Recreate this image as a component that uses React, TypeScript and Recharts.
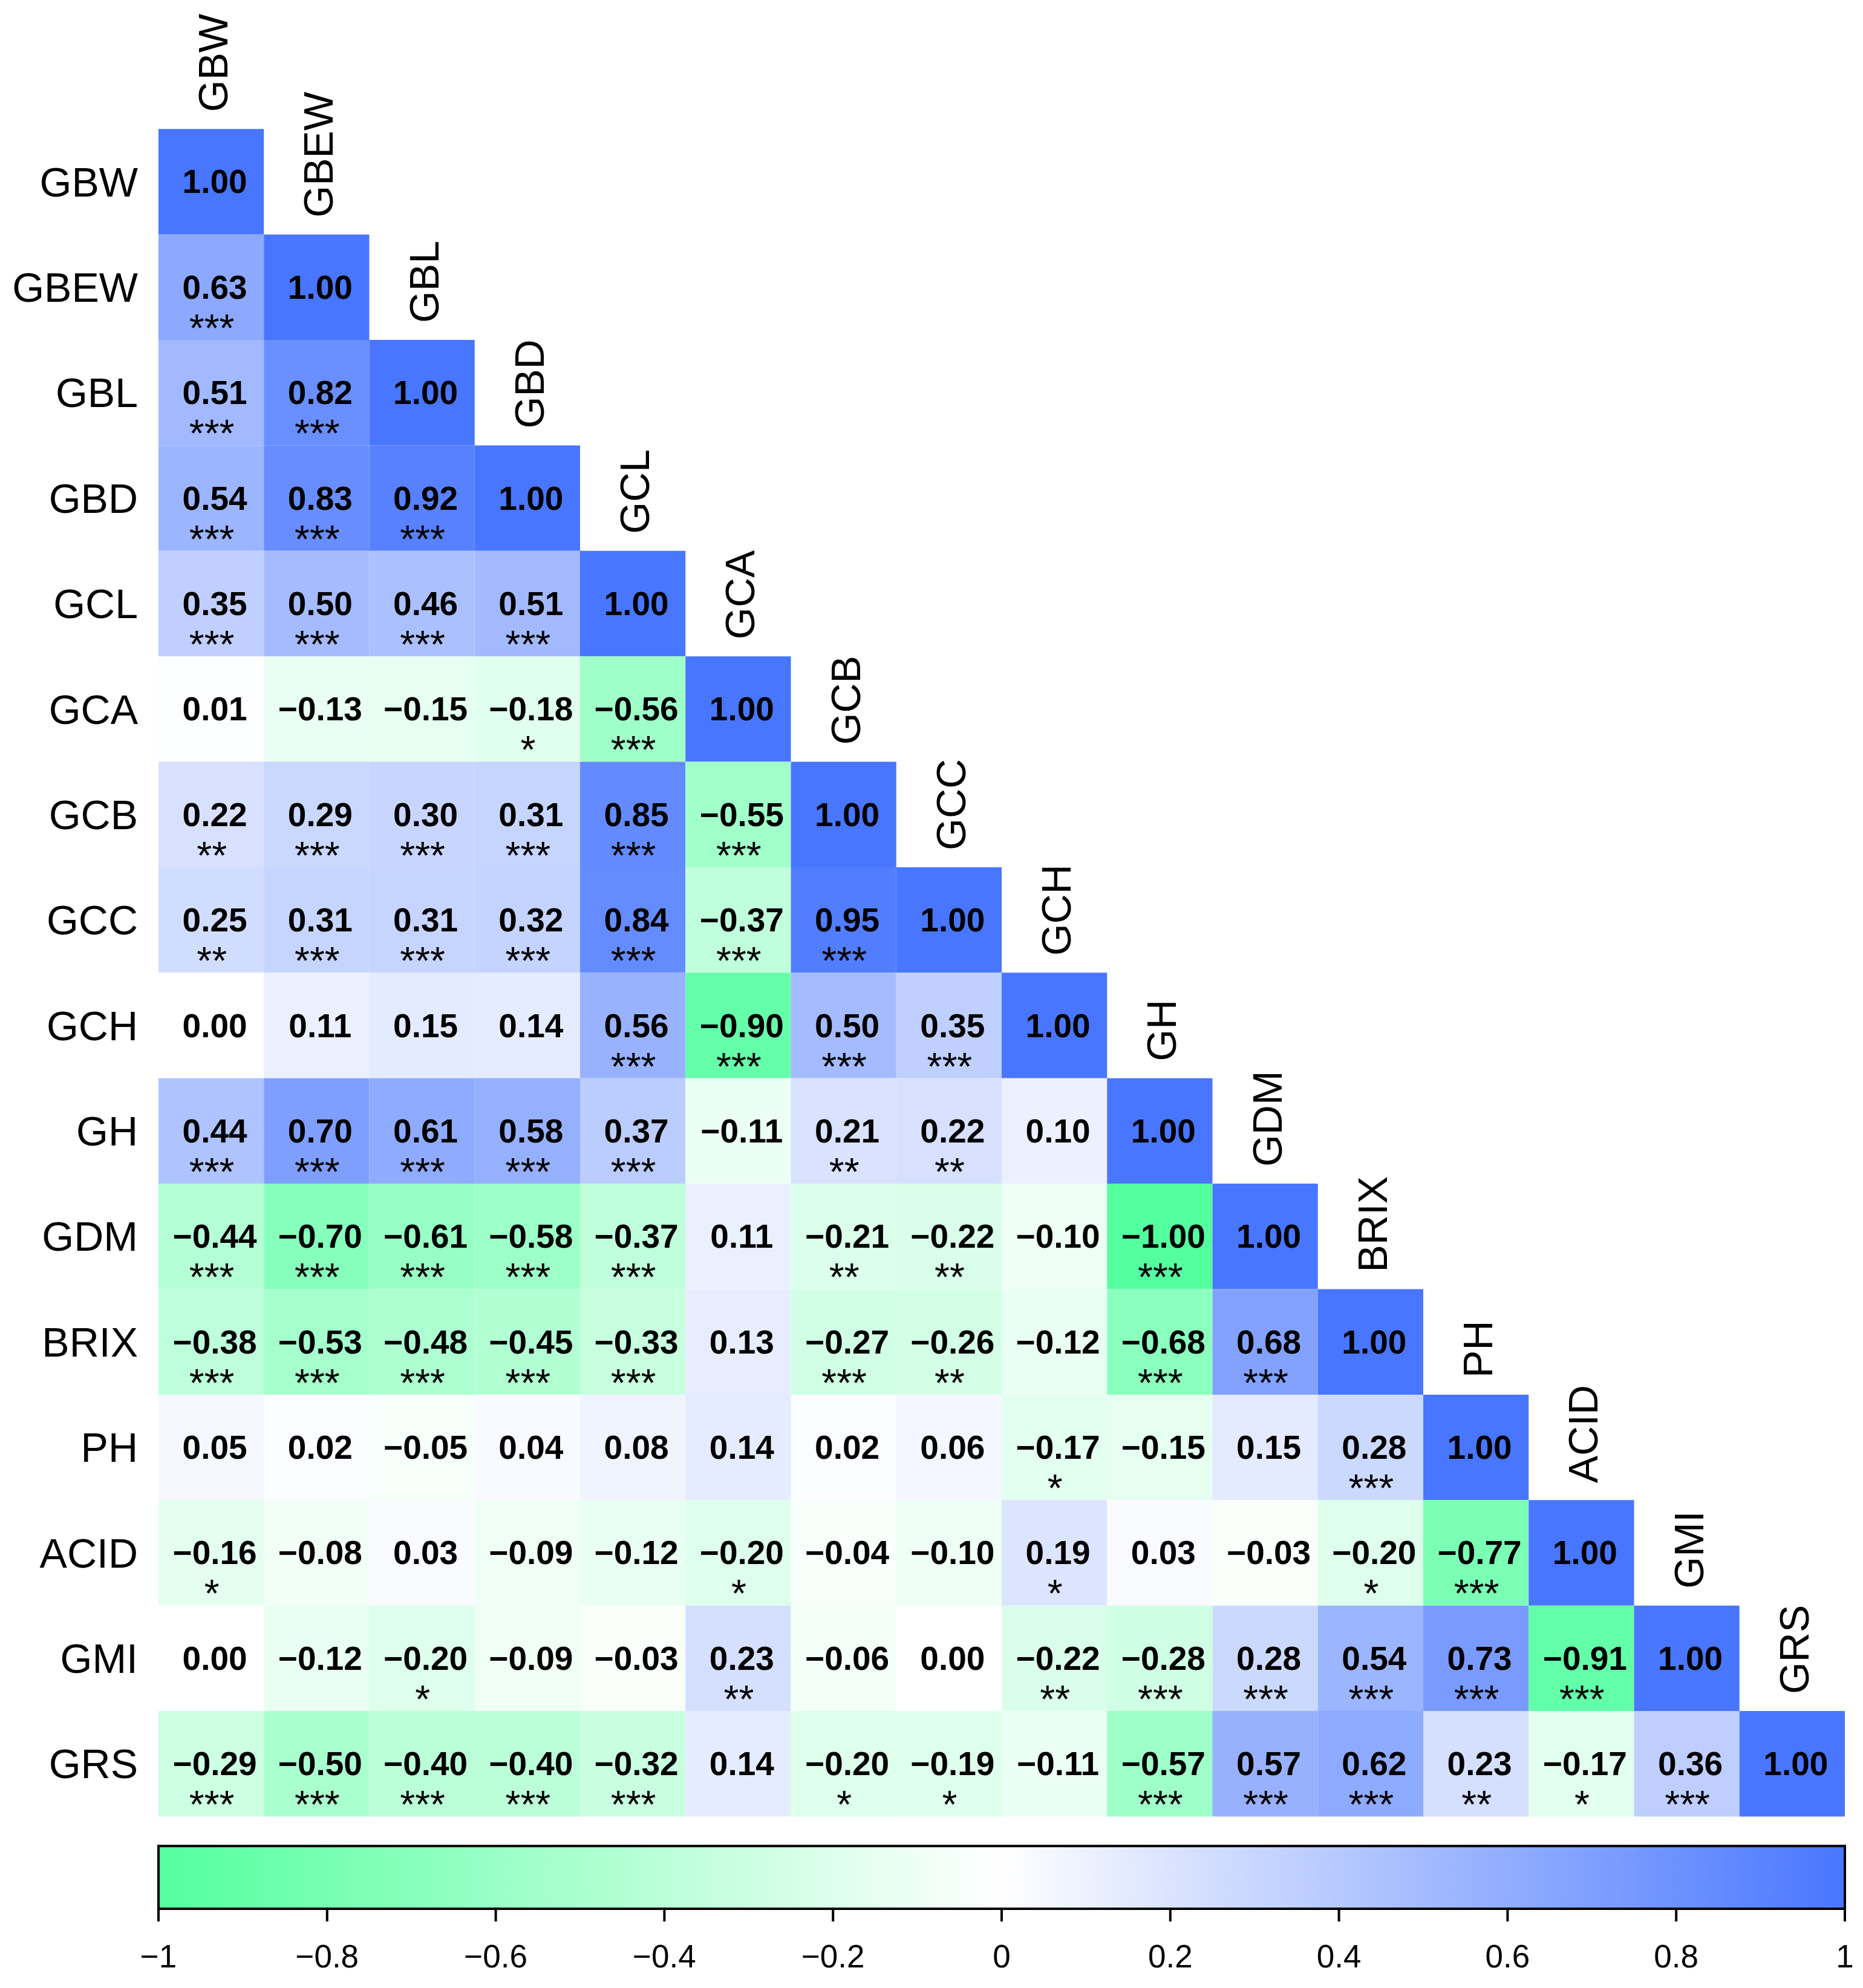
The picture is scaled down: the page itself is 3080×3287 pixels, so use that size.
import React from 'react';
import { ScatterChart, Scatter, XAxis, YAxis, ReferenceArea } from 'recharts';

const VARS = ['GBW', 'GBEW', 'GBL', 'GBD', 'GCL', 'GCA', 'GCB', 'GCC', 'GCH', 'GH', 'GDM', 'BRIX', 'PH', 'ACID', 'GMI', 'GRS'];

// lower-triangle correlations (row variable vs earlier columns), diagonal = 1
const R_GBW: number[] = [];
const S_GBW: string[] = [];
const R_GBEW = [0.63];
const S_GBEW = ['***'];
const R_GBL = [0.51, 0.82];
const S_GBL = ['***', '***'];
const R_GBD = [0.54, 0.83, 0.92];
const S_GBD = ['***', '***', '***'];
const R_GCL = [0.35, 0.50, 0.46, 0.51];
const S_GCL = ['***', '***', '***', '***'];
const R_GCA = [0.01, -0.13, -0.15, -0.18, -0.56];
const S_GCA = ['', '', '', '*', '***'];
const R_GCB = [0.22, 0.29, 0.30, 0.31, 0.85, -0.55];
const S_GCB = ['**', '***', '***', '***', '***', '***'];
const R_GCC = [0.25, 0.31, 0.31, 0.32, 0.84, -0.37, 0.95];
const S_GCC = ['**', '***', '***', '***', '***', '***', '***'];
const R_GCH = [0.00, 0.11, 0.15, 0.14, 0.56, -0.90, 0.50, 0.35];
const S_GCH = ['', '', '', '', '***', '***', '***', '***'];
const R_GH = [0.44, 0.70, 0.61, 0.58, 0.37, -0.11, 0.21, 0.22, 0.10];
const S_GH = ['***', '***', '***', '***', '***', '', '**', '**', ''];
const R_GDM = [-0.44, -0.70, -0.61, -0.58, -0.37, 0.11, -0.21, -0.22, -0.10, -1.00];
const S_GDM = ['***', '***', '***', '***', '***', '', '**', '**', '', '***'];
const R_BRIX = [-0.38, -0.53, -0.48, -0.45, -0.33, 0.13, -0.27, -0.26, -0.12, -0.68, 0.68];
const S_BRIX = ['***', '***', '***', '***', '***', '', '***', '**', '', '***', '***'];
const R_PH = [0.05, 0.02, -0.05, 0.04, 0.08, 0.14, 0.02, 0.06, -0.17, -0.15, 0.15, 0.28];
const S_PH = ['', '', '', '', '', '', '', '', '*', '', '', '***'];
const R_ACID = [-0.16, -0.08, 0.03, -0.09, -0.12, -0.20, -0.04, -0.10, 0.19, 0.03, -0.03, -0.20, -0.77];
const S_ACID = ['*', '', '', '', '', '*', '', '', '*', '', '', '*', '***'];
const R_GMI = [0.00, -0.12, -0.20, -0.09, -0.03, 0.23, -0.06, 0.00, -0.22, -0.28, 0.28, 0.54, 0.73, -0.91];
const S_GMI = ['', '', '*', '', '', '**', '', '', '**', '***', '***', '***', '***', '***'];
const R_GRS = [-0.29, -0.50, -0.40, -0.40, -0.32, 0.14, -0.20, -0.19, -0.11, -0.57, 0.57, 0.62, 0.23, -0.17, 0.36];
const S_GRS = ['***', '***', '***', '***', '***', '', '*', '*', '', '***', '***', '***', '**', '*', '***'];

const CB_TICKS = [-1, -0.8, -0.6, -0.4, -0.2, 0, 0.2, 0.4, 0.6, 0.8, 1];

const ROWS = [R_GBW, R_GBEW, R_GBL, R_GBD, R_GCL, R_GCA, R_GCB, R_GCC, R_GCH, R_GH, R_GDM, R_BRIX, R_PH, R_ACID, R_GMI, R_GRS];
const SIGS = [S_GBW, S_GBEW, S_GBL, S_GBD, S_GCL, S_GCA, S_GCB, S_GCC, S_GCH, S_GH, S_GDM, S_BRIX, S_PH, S_ACID, S_GMI, S_GRS];

const NEG = [84, 255, 159];
const POS = [72, 118, 255];
const FONT = '"Liberation Sans", Arial, Helvetica, sans-serif';

function colorOf(v: number): string {
  const t = Math.min(1, Math.abs(v));
  const end = v < 0 ? NEG : POS;
  const c = end.map((e) => Math.round(255 + t * (e - 255)));
  return `rgb(${c[0]},${c[1]},${c[2]})`;
}

type Cell = { x: number; y: number; r: number; sig: string; row: number; col: number };

const CELLS: Cell[] = [];
ROWS.forEach((vals, i) => {
  vals.forEach((v, j) => {
    CELLS.push({ x: j + 0.5, y: i + 0.5, r: v, sig: SIGS[i][j], row: i, col: j });
  });
  CELLS.push({ x: i + 0.5, y: i + 0.5, r: 1, sig: '', row: i, col: i });
});

const COL_LABELS = VARS.map((name, j) => ({ x: j + 0.5, y: j, name }));
const CB_POINTS = CB_TICKS.map((v) => ({ cbx: v, y: 16.875 }));

function fmt(v: number): string {
  const s = v.toFixed(2);
  return s.startsWith('-') ? '\u2212' + s.slice(1) : s;
}

function fmtTick(v: number): string {
  if (Math.abs(v) < 1e-9) return '0';
  const s = String(+v.toFixed(1));
  return s.startsWith('-') ? '\u2212' + s.slice(1) : s;
}

const CellText = (props: any) => {
  const { cx, cy, payload } = props;
  if (cx == null || cy == null) return null;
  return (
    <g>
      <text x={cx + 6} y={cy + 19} textAnchor="middle" fontFamily={FONT} fontWeight="bold" fontSize={55} fill="#000">
        {fmt(payload.r)}
      </text>
      {payload.sig ? (
        <text x={cx + 1} y={cy + 90} textAnchor="middle" fontFamily={FONT} fontSize={64} fill="#000">
          {payload.sig}
        </text>
      ) : null}
    </g>
  );
};

const ColLabel = (props: any) => {
  const { cx, cy, payload } = props;
  if (cx == null || cy == null) return null;
  const tx = cx + 27;
  const ty = cy - 28;
  return (
    <text
      x={tx}
      y={ty}
      transform={`rotate(-90 ${tx} ${ty})`}
      textAnchor="start"
      fontFamily={FONT}
      fontSize={68}
      fill="#000"
    >
      {payload.name}
    </text>
  );
};

const ColorBarShape = (props: any) => {
  const { x, y, width, height } = props;
  return (
    <g>
      <defs>
        <linearGradient id="cbGrad" x1="0" y1="0" x2="1" y2="0">
          <stop offset="0%" stopColor="rgb(84,255,159)" />
          <stop offset="50%" stopColor="#ffffff" />
          <stop offset="100%" stopColor="rgb(72,118,255)" />
        </linearGradient>
      </defs>
      <rect x={x} y={y} width={width} height={height} fill="url(#cbGrad)" stroke="#000" strokeWidth={4} />
    </g>
  );
};

const NoShape = () => <g />;

export default function App() {
  return (
    <div style={{ position: 'absolute', left: 0, top: 0, background: '#fff' }}>
      <ScatterChart width={3080} height={3287} margin={{ top: 4, right: 30, bottom: 0, left: 0 }}>
        <XAxis xAxisId="m" type="number" dataKey="x" domain={[0, 16]} allowDataOverflow hide />
        <XAxis
          xAxisId="cb"
          type="number"
          dataKey="cbx"
          domain={[-1, 1]}
          ticks={CB_TICKS}
          interval={0}
          allowDataOverflow
          height={131}
          tickSize={21}
          tickMargin={38}
          axisLine={false}
          tickLine={{ stroke: '#000', strokeWidth: 4 }}
          tick={{ fontSize: 53, fill: '#000', fontFamily: FONT }}
          tickFormatter={fmtTick}
        />
        <YAxis
          yAxisId="y"
          type="number"
          dataKey="y"
          domain={[-1.2, 16.875]}
          allowDataOverflow
          reversed
          ticks={VARS.map((_, i) => i + 0.5)}
          interval={0}
          width={262}
          tickSize={0}
          tickMargin={34}
          axisLine={false}
          tickLine={false}
          tick={{ fontSize: 68, fill: '#000', fontFamily: FONT }}
          tickFormatter={(v: number) => VARS[Math.floor(v)] ?? ''}
        />
        {CELLS.map((c) => (
          <ReferenceArea
            key={`cell-${c.row}-${c.col}`}
            xAxisId="m"
            yAxisId="y"
            x1={c.col}
            x2={c.col + 1}
            y1={c.row}
            y2={c.row + 1}
            fill={colorOf(c.r)}
            fillOpacity={1}
            stroke="none"
          />
        ))}
        <ReferenceArea
          xAxisId="m"
          yAxisId="y"
          x1={0}
          x2={16}
          y1={16.28}
          y2={16.875}
          shape={ColorBarShape}
        />
        <Scatter
          xAxisId="m"
          yAxisId="y"
          data={CELLS}
          dataKey="y"
          shape={CellText}
          isAnimationActive={false}
        />
        <Scatter
          xAxisId="m"
          yAxisId="y"
          data={COL_LABELS}
          dataKey="y"
          shape={ColLabel}
          isAnimationActive={false}
        />
        <Scatter
          xAxisId="cb"
          yAxisId="y"
          data={CB_POINTS}
          dataKey="y"
          shape={NoShape}
          isAnimationActive={false}
        />
      </ScatterChart>
    </div>
  );
}
